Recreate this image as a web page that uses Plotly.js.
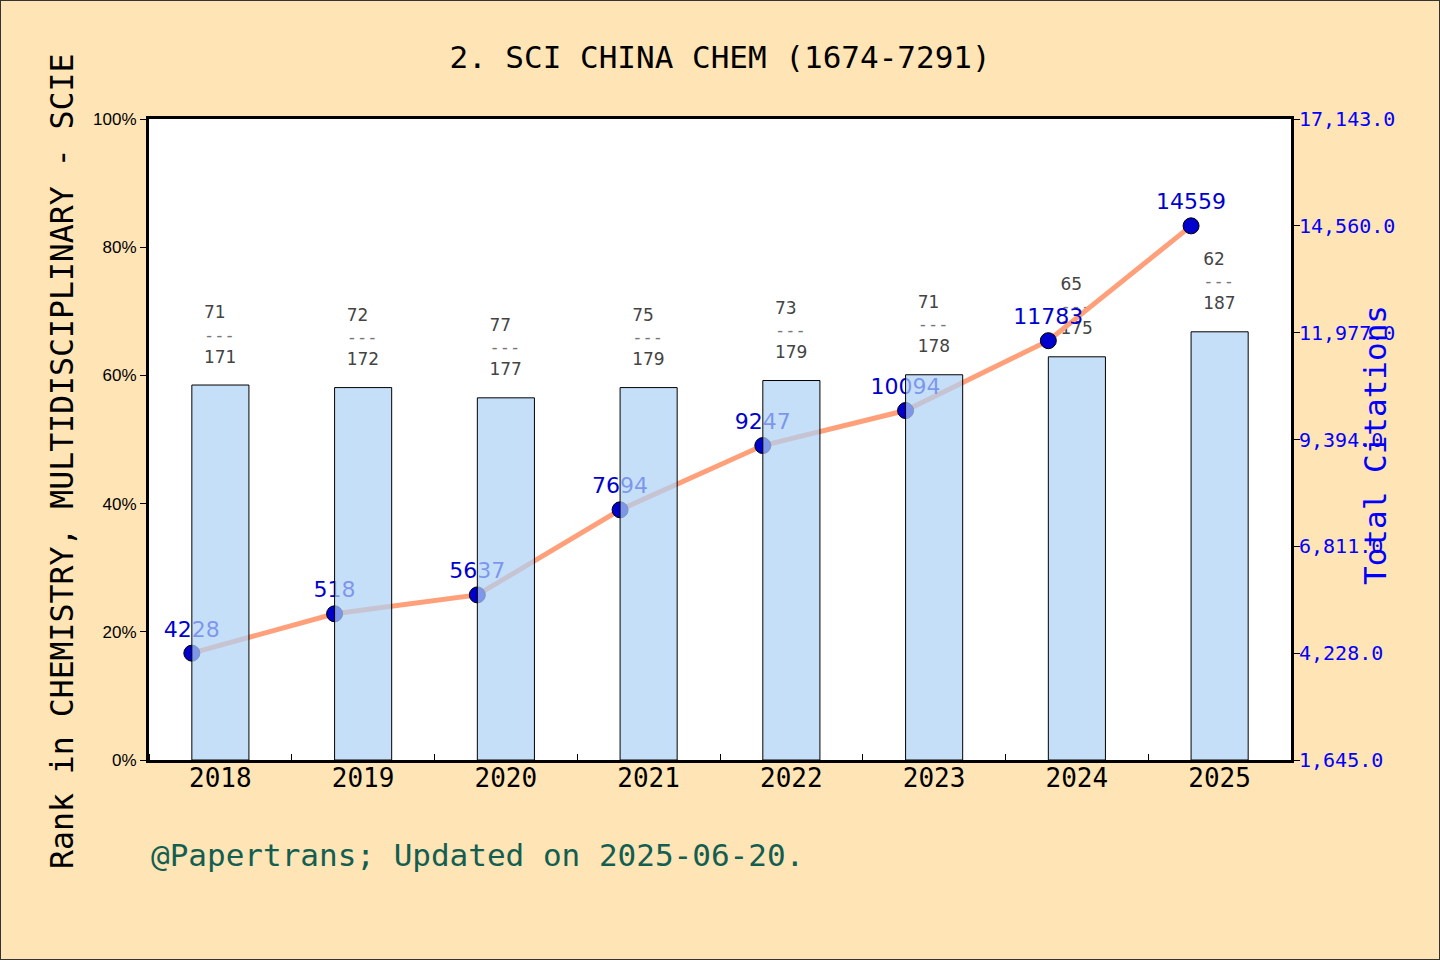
<!DOCTYPE html>
<html>
<head>
<meta charset="utf-8">
<script src="https://cdn.plot.ly/plotly-3.0.1.min.js"></script>
<style>
    body { margin: 0; background: #ffe4b5; }
    #wrap { position: relative; width: 1440px; height: 960px; }
    #grafico { width: 1440px; height: 960px; }
    #moldura { position: absolute; left: 0; top: 0; width: 1438px; height: 958px; border: 1px solid #333; pointer-events: none; }
</style>
</head>
<body>
<div id="wrap">
    <div id="grafico"></div>
    <div id="moldura"></div>
</div>
<script>
// Dados
const anos = ["2018", "2019", "2020", "2021", "2022", "2023", "2024", "2025"];
const rankPos = [71, 72, 77, 75, 73, 71, 65, 62];
const rankTotal = [171, 172, 177, 179, 179, 178, 175, 187];
const percentil = [0.585, 0.581, 0.565, 0.581, 0.592, 0.601, 0.629, 0.668];
const citacoes = [4228, 5180, 5637, 7694, 9247, 10094, 11783, 14559];
const citacoesTexto = ["4228", "518", "5637", "7694", "9247", "10094", "11783", "14559"];
const citTicks = [1645, 4228, 6811, 9394, 11977, 14560, 17143];
const citTicksTexto = ["1,645.0", "4,228.0", "6,811.0", "9,394.0", "11,977.0", "14,560.0", "17,143.0"];

const mono = "DejaVu Sans Mono, monospace";
const azul = "rgb(0,0,205)";

const xIdx = anos.map((a, i) => i);

//// Rotulos de ranking (ficam por baixo da linha)
var rotulos = {
    x: xIdx.map(i => i - 0.115),
    y: percentil.map(p => p + 0.076),
    text: rankPos.map((r, i) => r + "<br><span style='font-family:DejaVu Sans Mono;color:#777'>---</span><br>" + rankTotal[i]),
    mode: "text",
    textposition: "middle right",
    textfont: { family: "DejaVu Sans, sans-serif", size: 17, color: "#444" },
    cliponaxis: false,
    hoverinfo: "skip",
    showlegend: false,
    xaxis: "x",
    yaxis: "y"
};

//// Citacoes
var linha = {
    x: xIdx.map(i => i - 0.2),
    y: citacoes,
    text: citacoesTexto,
    mode: "lines+markers+text",
    textposition: "top center",
    textfont: { family: "DejaVu Sans, sans-serif", size: 22, color: azul },
    line: { color: "#ffa07a", width: 5 },
    marker: { size: 16, color: azul, line: { color: "#000", width: 1 } },
    cliponaxis: false,
    showlegend: false,
    xaxis: "x",
    yaxis: "y2"
};

//// Barras (por cima da linha, semi-transparentes)
var barras = {
    x: xIdx,
    y: percentil,
    type: "bar",
    width: 0.4,
    marker: { color: "rgba(175,210,246,0.714)", line: { color: "#000", width: 1 } },
    showlegend: false,
    xaxis: "x",
    yaxis: "y3"
};

var data = [rotulos, linha, barras];

var layout = {
    width: 1440,
    height: 960,
    paper_bgcolor: "#ffe4b5",
    plot_bgcolor: "#ffffff",
    margin: { l: 149, r: 149, t: 119, b: 200, pad: 0 },
    title: {
        text: "2. SCI CHINA CHEM (1674-7291)",
        font: { family: mono, size: 31, color: "#000" },
        x: 0.5, xanchor: "center",
        y: 1 - 57 / 960, yanchor: "middle"
    },
    xaxis: {
        range: [-0.5, 7.5],
        tickvals: xIdx,
        ticktext: anos,
        ticks: "",
        ticklabelstandoff: -7,
        tickfont: { family: mono, size: 26, color: "#000" },
        showline: true, linewidth: 3, linecolor: "#000", mirror: true,
        showgrid: false, zeroline: false,
        minor: { tick0: 0.5, dtick: 1, ticks: "inside", ticklen: 6, tickcolor: "#000", tickwidth: 1 }
    },
    yaxis: {
        range: [0, 1],
        tickvals: [0, 0.2, 0.4, 0.6, 0.8, 1],
        tickformat: ".0%",
        ticks: "outside", ticklen: 6, tickcolor: "#000",
        tickfont: { family: "Liberation Sans, Arial, sans-serif", size: 17, color: "#000" },
        showline: true, linewidth: 3, linecolor: "#000",
        showgrid: false, zeroline: false,
        side: "left"
    },
    yaxis2: {
        range: [1645, 17143],
        overlaying: "y",
        side: "right",
        tickvals: citTicks,
        ticktext: citTicksTexto,
        ticks: "outside", ticklen: 6, tickcolor: "#000",
        ticklabelstandoff: -5,
        tickfont: { family: mono, size: 20, color: "blue" },
        showline: true, linewidth: 3, linecolor: "#000",
        showgrid: false, zeroline: false
    },
    yaxis3: {
        range: [0, 1],
        overlaying: "y",
        visible: false,
        showgrid: false, zeroline: false
    },
    annotations: [
        {
            text: "Rank in CHEMISTRY, MULTIDISCIPLINARY - SCIE",
            xref: "paper", yref: "paper",
            x: (62 - 149) / 1142, y: (760 - 462) / 641,
            xanchor: "center", yanchor: "middle",
            textangle: -90, showarrow: false,
            font: { family: mono, size: 31.5, color: "#000" }
        },
        {
            text: "Total Citations",
            xref: "paper", yref: "paper",
            x: (1375 - 149) / 1142, y: (760 - 445) / 641,
            xanchor: "center", yanchor: "middle",
            textangle: -90, showarrow: false,
            font: { family: mono, size: 31, color: "blue" }
        },
        {
            text: "@Papertrans; Updated on 2025-06-20.",
            xref: "paper", yref: "paper",
            x: 0, y: (760 - 855) / 641,
            xanchor: "left", yanchor: "middle",
            showarrow: false,
            font: { family: mono, size: 31, color: "#125e50" }
        }
    ]
};

Plotly.newPlot("grafico", data, layout, { displayModeBar: false, staticPlot: true });
</script>
</body>
</html>
